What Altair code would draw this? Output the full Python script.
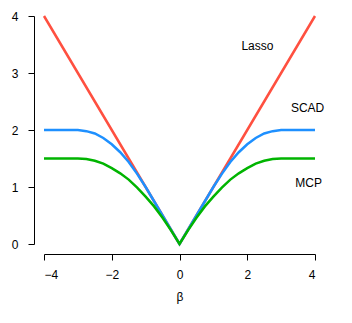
import altair as alt
import pandas as pd

# beta grid (at steps of 0.25)
beta = [-4, -3.75, -3.5, -3.25, -3, -2.75, -2.5, -2.25, -2, -1.75, -1.5, -1.25, -1,
        -0.75, -0.5, -0.25, 0, 0.25, 0.5, 0.75, 1, 1.25, 1.5, 1.75, 2, 2.25, 2.5,
        2.75, 3, 3.25, 3.5, 3.75, 4]
lasso = [4, 3.75, 3.5, 3.25, 3, 2.75, 2.5, 2.25, 2, 1.75, 1.5, 1.25, 1,
         0.75, 0.5, 0.25, 0, 0.25, 0.5, 0.75, 1, 1.25, 1.5, 1.75, 2, 2.25, 2.5,
         2.75, 3, 3.25, 3.5, 3.75, 4]
scad = [2, 2, 2, 2, 2, 1.98, 1.94, 1.86, 1.75, 1.61, 1.44, 1.23, 1,
        0.75, 0.5, 0.25, 0, 0.25, 0.5, 0.75, 1, 1.23, 1.44, 1.61, 1.75, 1.86, 1.94,
        1.98, 2, 2, 2, 2, 2]
mcp = [1.5, 1.5, 1.5, 1.5, 1.5, 1.49, 1.46, 1.41, 1.33, 1.24, 1.13, 0.99, 0.83,
       0.66, 0.46, 0.24, 0, 0.24, 0.46, 0.66, 0.83, 0.99, 1.13, 1.24, 1.33, 1.41, 1.46,
       1.49, 1.5, 1.5, 1.5, 1.5, 1.5]

series = ["Lasso", "SCAD", "MCP"]
colors = ["#FF5040", "#1E90FF", "#00B400"]

label_text = ["Lasso", "SCAD", "MCP"]
label_x = [2.30, 3.78, 3.81]
label_y = [3.47, 2.39, 1.07]

rows = []
for name, vals in zip(series, [lasso, scad, mcp]):
    for b, v in zip(beta, vals):
        rows.append({"beta": b, "value": v, "method": name})
df = pd.DataFrame(rows)
lab = pd.DataFrame({"text": label_text, "x": label_x, "y": label_y})

xscale = alt.Scale(domain=[-4, 4], nice=False, zero=False)
yscale = alt.Scale(domain=[0, 4], nice=False)

lines = alt.Chart(df).mark_line(strokeWidth=2.5, clip=False).encode(
    x=alt.X("beta:Q", scale=xscale, title="β",
            axis=alt.Axis(values=[-4, -2, 0, 2, 4], offset=10, tickSize=6,
                          labelPadding=9, titlePadding=11, format="d")),
    y=alt.Y("value:Q", scale=yscale, title=None,
            axis=alt.Axis(values=[0, 1, 2, 3, 4], offset=10, tickSize=6,
                          labelPadding=10, format="d")),
    color=alt.Color("method:N", scale=alt.Scale(domain=series, range=colors), legend=None),
    detail="method:N",
)

texts = alt.Chart(lab).mark_text(fontSize=12, font="Liberation Sans", color="black").encode(
    x=alt.X("x:Q", scale=xscale),
    y=alt.Y("y:Q", scale=yscale),
    text="text:N",
)

chart = alt.layer(lines, texts).properties(
    width=271, height=228,
    autosize=alt.AutoSizeParams(type="none"),
    padding={"left": 36, "top": 8, "right": 20, "bottom": 60},
).configure_view(stroke=None).configure_axis(
    grid=False, domainColor="black", tickColor="black", labelColor="black",
    titleColor="black", labelFont="Liberation Sans", titleFont="Liberation Sans",
    labelFontSize=12, titleFontSize=12, titleFontWeight="normal",
    domainWidth=1, tickWidth=1,
)

chart.save("out.html", embed_options={"renderer": "svg", "actions": False})
